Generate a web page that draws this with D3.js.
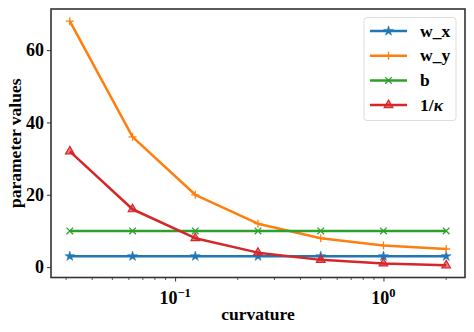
<!DOCTYPE html>
<html><head><meta charset="utf-8">
<script src="https://cdn.jsdelivr.net/npm/d3@7"></script>
<style>body{margin:0;background:#fff}svg{display:block}text{font-family:"Liberation Serif","Times New Roman",serif;font-weight:bold}</style>
</head><body><svg id="c" width="474" height="332"></svg>
<script>
const curvature = [0.03125, 0.0625, 0.125, 0.25, 0.5, 1, 2];
const w_x = [3, 3, 3, 3, 3, 3, 3];
const w_y = [68, 36, 20, 12, 8, 6, 5];
const b = [10, 10, 10, 10, 10, 10, 10];
const invK = [32, 16, 8, 4, 2, 1, 0.5];
const yTicks = [0, 20, 40, 60];
const xTicks = [0.1, 1];
const seriesNames = ["w_x", "w_y", "b", "1/κ"];
const colors = ["#1f77b4", "#ff7f0e", "#2ca02c", "#d62728"];
const markers = ["star", "plus", "cross", "triangle"];
const series = [w_x, w_y, b, invK];

const svg = d3.select("#c");
const L = 51, R = 465, T = 9, B = 277.5;
const lx = [Math.log10(curvature[0]), Math.log10(curvature[curvature.length-1])];
const mx = (lx[1]-lx[0])*0.05;
const x = d3.scaleLog().domain([Math.pow(10, lx[0]-mx), Math.pow(10, lx[1]+mx)]).range([L, R]);
const all = series.flat();
const ymin = d3.min(all), ymax = d3.max(all), my = (ymax-ymin)*0.05;
const y = d3.scaleLinear().domain([ymin-my, ymax+my]).range([B, T]);

function markerPath(type) {
  if (type === "star") return d3.symbol(d3.symbolStar, 30)();
  if (type === "triangle") return d3.symbol(d3.symbolTriangle, 32)();
  if (type === "plus") return `M-4,0L4,0M0,-4L0,4`;
  return `M-3.3,-3.3L3.3,3.3M-3.3,3.3L3.3,-3.3`;
}
function drawMarker(g, type, color, cx, cy) {
  const p = g.append("path").attr("d", markerPath(type)).attr("transform", `translate(${cx},${cy})`);
  if (type === "plus" || type === "cross") p.attr("fill", "none").attr("stroke", color).attr("stroke-width", 1.3);
  else if (type === "triangle") p.attr("fill", color).attr("fill-opacity", 0.6).attr("stroke", color).attr("stroke-width", 1.2);
  else p.attr("fill", color).attr("stroke", color).attr("stroke-width", 0.5);
}

// lines
const line = d3.line().x((d,i)=>x(curvature[i])).y(d=>y(d));
series.forEach((s, k) => {
  const g = svg.append("g");
  g.append("path").datum(s).attr("d", line).attr("fill", "none").attr("stroke", colors[k]).attr("stroke-width", 2.5).attr("stroke-linejoin","round");
  s.forEach((v,i) => drawMarker(g, markers[k], colors[k], x(curvature[i]), y(v)));
});

// axes
const xAxis = d3.axisBottom(x).tickValues(xTicks).tickSize(4).tickFormat(()=>"");
const gx = svg.append("g").attr("transform", `translate(0,${B})`).call(xAxis);
const minor = [];
for (let d=-2; d<=0; d++) for (let m=2; m<=9; m++) { const v=m*Math.pow(10,d); if (v>x.domain()[0] && v<x.domain()[1]) minor.push(v); }
gx.selectAll(".minor").data(minor).enter().append("line").attr("x1", d=>x(d)).attr("x2", d=>x(d)).attr("y1",0).attr("y2",2.5).attr("stroke","#333").attr("stroke-width",0.8);
gx.select(".domain").remove();
gx.selectAll(".tick line").attr("stroke","#333").attr("stroke-width",1);
xTicks.forEach(v => {
  const t = svg.append("text").attr("x", x(v)).attr("y", B+26).attr("text-anchor","middle").attr("font-size",18).attr("fill","#000");
  t.append("tspan").text("10");
  t.append("tspan").attr("dy",-7).attr("font-size",12.5).text(Math.log10(v)===0?"0":"−1");
});

const yAxis = d3.axisLeft(y).tickValues(yTicks).tickSize(4).tickPadding(3);
const gy = svg.append("g").attr("transform", `translate(${L},0)`).call(yAxis);
gy.select(".domain").remove();
gy.selectAll(".tick line").attr("stroke","#333").attr("stroke-width",1);
gy.selectAll(".tick text").attr("font-size",18).attr("fill","#000");

svg.append("rect").attr("x",L).attr("y",T).attr("width",R-L).attr("height",B-T).attr("fill","none").attr("stroke","#333").attr("stroke-width",1.6);

svg.append("text").attr("x",(L+R)/2).attr("y",320).attr("text-anchor","middle").attr("font-size",17.5).text("curvature");
svg.append("text").attr("transform",`translate(21,${(T+B)/2}) rotate(-90)`).attr("text-anchor","middle").attr("font-size",17.5).text("parameter values");

// legend
const lg = svg.append("g");
lg.append("rect").attr("x",364).attr("y",17.5).attr("width",92).attr("height",103).attr("rx",3).attr("fill","#fff").attr("fill-opacity",0.8).attr("stroke","#ddd").attr("stroke-width",1);
seriesNames.forEach((n,k) => {
  const yy = 31 + k*24.7;
  lg.append("line").attr("x1",370).attr("x2",407).attr("y1",yy).attr("y2",yy).attr("stroke",colors[k]).attr("stroke-width",2.5);
  drawMarker(lg, markers[k], colors[k], 388.5, yy);
  const t = lg.append("text").attr("x",420).attr("y",yy+5.5).attr("font-size",17.5);
  if (n === "1/κ") { t.append("tspan").text("1/"); t.append("tspan").attr("font-style","italic").text("κ"); }
  else t.text(n);
});
</script></body></html>
